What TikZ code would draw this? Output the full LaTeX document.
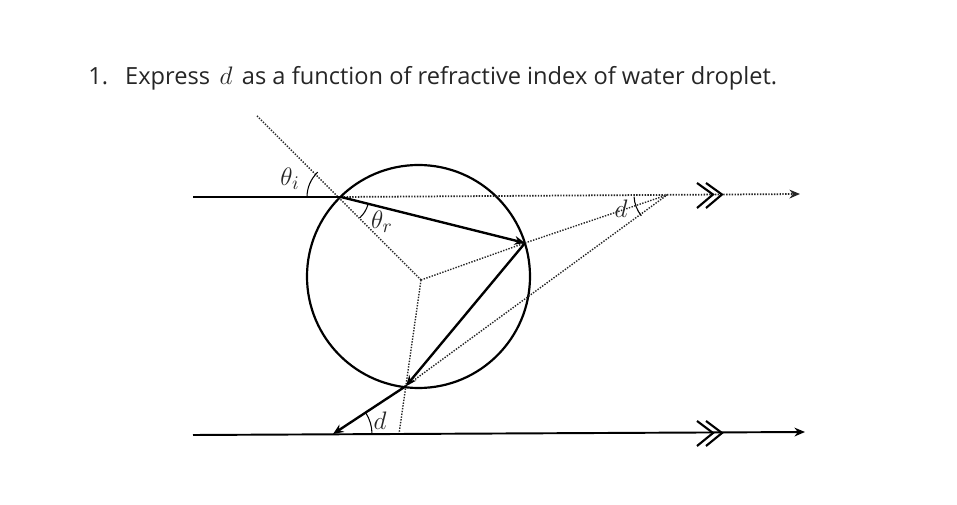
\documentclass[tikz,border=0pt]{standalone}
\usepackage{fontspec}
\setmainfont{Open Sans}
\usetikzlibrary{arrows.meta}
\tikzset{
ray/.style={line width=1.35pt},
guide/.style={dash pattern=on 0.8pt off 0.8pt,line width=0.8pt,black!85},
angmark/.style={line width=0.6pt},
chevron/.style={line width=1.2pt,line join=miter},
label/.style={font=\fontsize{15pt}{18pt}\selectfont,black!85},
}
\begin{document}
\begin{tikzpicture}[x=0.02cm,y=0.02cm,line join=round,>={Stealth[length=6pt,width=5pt]}]
\useasboundingbox (0,0) rectangle (957,504);
\def\rdrop{111.5}
\coordinate (centerdrop) at (418.5,227.5);
\coordinate (normal) at (421,224);
\coordinate (start) at (257,388);
\coordinate (foot) at (399,70);
\coordinate (P) at (341,307);
\coordinate (Q) at (525,261);
\coordinate (R) at (406,118);
\coordinate (E) at (333,70);
\coordinate (A) at (667,309);
\coordinate (inleft) at (193,307);
\coordinate (outtop) at (800,310);
\coordinate (lowleft) at (193,69);
\coordinate (lowright) at (805,72);
\node[anchor=base west,font=\fontsize{13.45pt}{16pt}\selectfont,inner sep=0pt,black!85] (title) at (88,419) {1.\hspace{5pt} Express\hspace{5.4pt}$d$\hspace{5.4pt}as a function of refractive index of water droplet.};
\draw[line width=1.25pt] (centerdrop) circle (\rdrop);
% guide lines
\draw[guide] (start)--(normal);
\draw[guide] (normal)--(Q);
\draw[guide] (normal)--(foot);
\draw[guide] (Q)--(A);
\draw[guide] (R)--(A);
\draw[guide,line width=1pt,->] (P)--(outtop);
% rays
\draw[ray] (inleft)--(P);
\draw[ray,->] (P)--(Q);
\draw[ray,->] (Q)--(R);
\draw[ray,->] (R)--(E);
\draw[line width=1.1pt,->] (lowleft)--(lowright);
% chevrons
\foreach \x in {713,722} {
\draw[chevron] (\x-16,321)--(\x,309.5)--(\x-16,296);
\draw[chevron] (\x-16,83)--(\x,71)--(\x-16,58);
}
% angles
\draw[angmark] (P) ++(180:34) arc (180:133:34);
\draw[angmark] (P) ++(-48:28) arc (-48:-16:28);
\draw[angmark] (E) ++(0:39) arc (0:33:39);
\draw[angmark] (A) ++(183:33) arc (183:219:33);
\node[label] (thi) at (290,325) {$\theta_i$};
\node[label] (thr) at (382,282) {$\theta_r$};
\node[label] (dtop) at (621,295) {$d$};
\node[label] (dlow) at (380,83) {$d$};
\end{tikzpicture}
\end{document}
